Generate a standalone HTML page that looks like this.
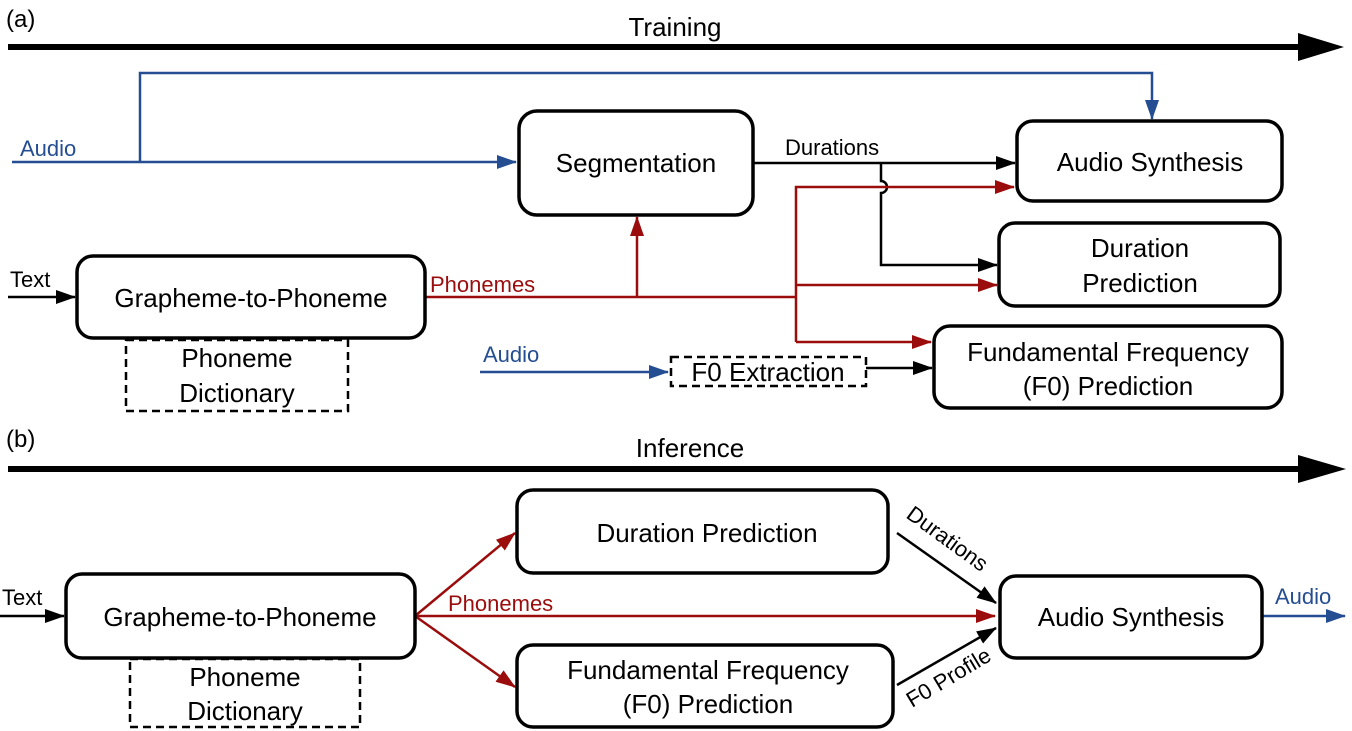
<!DOCTYPE html>
<html><head><meta charset="utf-8"><style>html,body{margin:0;padding:0;background:#fff}svg{display:block}text{font-family:"Liberation Sans",sans-serif}</style></head>
<body>
<svg width="1352" height="731" viewBox="0 0 1352 731" xmlns="http://www.w3.org/2000/svg">
<defs>
<marker id="ar" markerWidth="20" markerHeight="14" refX="19" refY="7" orient="auto" markerUnits="userSpaceOnUse"><path d="M0,0 L20,7 L0,14 z" fill="#9b0d0d"/></marker>
<marker id="ab" markerWidth="20" markerHeight="14" refX="19" refY="7" orient="auto" markerUnits="userSpaceOnUse"><path d="M0,0 L20,7 L0,14 z" fill="#254e92"/></marker>
<marker id="akk" markerWidth="20" markerHeight="14" refX="19" refY="7" orient="auto" markerUnits="userSpaceOnUse"><path d="M0,0 L20,7 L0,14 z" fill="#000"/></marker>
</defs>
<g font-size="24">
<text x="6" y="27">(a)</text>
<text x="675" y="36" text-anchor="middle" font-size="26">Training</text>
<line x1="8" y1="47" x2="1302" y2="47" stroke="#000" stroke-width="6"/>
<path d="M1298,33 L1344,47 L1298,61 z"/>
<text x="6" y="447">(b)</text>
<text x="690" y="457" text-anchor="middle" font-size="26">Inference</text>
<line x1="8" y1="469" x2="1302" y2="469" stroke="#000" stroke-width="6"/>
<path d="M1298,455 L1346,469 L1298,483 z"/>
</g>
<g fill="none" stroke-width="2.5">
<path d="M12,162 H516" stroke="#254e92" marker-end="url(#ab)"/>
<path d="M140,162 V73 H1152 V119" stroke="#254e92" marker-end="url(#ab)"/>
<path d="M480,372 H668" stroke="#254e92" marker-end="url(#ab)"/>
<path d="M8,297 H75" stroke="#000" marker-end="url(#akk)"/>
<path d="M753,163 H1015" stroke="#000" marker-end="url(#akk)"/>
<path d="M881,163 V181 A6,6 0 0 1 881,193 V265 H997" stroke="#000" marker-end="url(#akk)"/>
<path d="M866,368 H932" stroke="#000" marker-end="url(#akk)"/>
<path d="M425,297 H796" stroke="#9b0d0d"/>
<path d="M637,297 V217" stroke="#9b0d0d" marker-end="url(#ar)"/>
<path d="M796,342 V187 H1014" stroke="#9b0d0d" marker-end="url(#ar)"/>
<path d="M796,285 H997" stroke="#9b0d0d" marker-end="url(#ar)"/>
<path d="M796,342 H931" stroke="#9b0d0d" marker-end="url(#ar)"/>
<rect x="519" y="111" width="234" height="104" rx="18" stroke="#000" stroke-width="3.5"/>
<rect x="1017" y="121" width="265" height="80" rx="16" stroke="#000" stroke-width="3.5"/>
<rect x="999" y="223" width="281" height="83" rx="16" stroke="#000" stroke-width="3.5"/>
<rect x="77" y="256" width="348" height="82" rx="16" stroke="#000" stroke-width="3.5"/>
<rect x="934" y="326" width="348" height="82" rx="16" stroke="#000" stroke-width="3.5"/>
<rect x="126" y="340" width="222" height="71" stroke="#000" stroke-width="2.5" stroke-dasharray="8,5"/>
<rect x="671" y="357" width="195" height="29" stroke="#000" stroke-width="2.5" stroke-dasharray="8,5"/>
<path d="M0,616 H64" stroke="#000" marker-end="url(#akk)"/>
<path d="M415,616 L515,533" stroke="#9b0d0d" marker-end="url(#ar)"/>
<path d="M415,616 H995" stroke="#9b0d0d" marker-end="url(#ar)"/>
<path d="M415,616 L515,687" stroke="#9b0d0d" marker-end="url(#ar)"/>
<path d="M897,533 L996,603" stroke="#000" marker-end="url(#akk)"/>
<path d="M897,685 L996,628" stroke="#000" marker-end="url(#akk)"/>
<path d="M1262,616 H1345" stroke="#254e92" marker-end="url(#ab)"/>
<rect x="517" y="490" width="371" height="83" rx="16" stroke="#000" stroke-width="3.5"/>
<rect x="66" y="574" width="349" height="84" rx="16" stroke="#000" stroke-width="3.5"/>
<rect x="517" y="645" width="376" height="82" rx="16" stroke="#000" stroke-width="3.5"/>
<rect x="1000" y="576" width="262" height="82" rx="16" stroke="#000" stroke-width="3.5"/>
<rect x="130" y="659" width="230" height="68" stroke="#000" stroke-width="2.5" stroke-dasharray="8,5"/>
</g>
<g font-size="26" text-anchor="middle">
<text x="636" y="172">Segmentation</text>
<text x="1150" y="171">Audio Synthesis</text>
<text x="1140" y="257">Duration</text>
<text x="1140" y="292">Prediction</text>
<text x="251" y="307">Grapheme-to-Phoneme</text>
<text x="1108" y="361">Fundamental Frequency</text>
<text x="1108" y="395">(F0) Prediction</text>
<text x="237" y="367">Phoneme</text>
<text x="237" y="402">Dictionary</text>
<text x="768" y="381">F0 Extraction</text>
<text x="707" y="542">Duration Prediction</text>
<text x="240" y="626">Grapheme-to-Phoneme</text>
<text x="708" y="679">Fundamental Frequency</text>
<text x="708" y="713">(F0) Prediction</text>
<text x="1131" y="626">Audio Synthesis</text>
<text x="245" y="686">Phoneme</text>
<text x="245" y="720">Dictionary</text>
</g>
<g font-size="22">
<text x="20" y="156" fill="#254e92">Audio</text>
<text x="10" y="287">Text</text>
<text x="785" y="155">Durations</text>
<text x="430" y="292" fill="#9b0d0d">Phonemes</text>
<text x="483" y="362" fill="#254e92">Audio</text>
<text x="2" y="605">Text</text>
<text x="448" y="611" fill="#9b0d0d">Phonemes</text>
<text x="1275" y="604" fill="#254e92">Audio</text>
<text transform="translate(905,517) rotate(36)">Durations</text>
<text transform="translate(912,708) rotate(-31)">F0 Profile</text>
</g>
</svg>
</body></html>
